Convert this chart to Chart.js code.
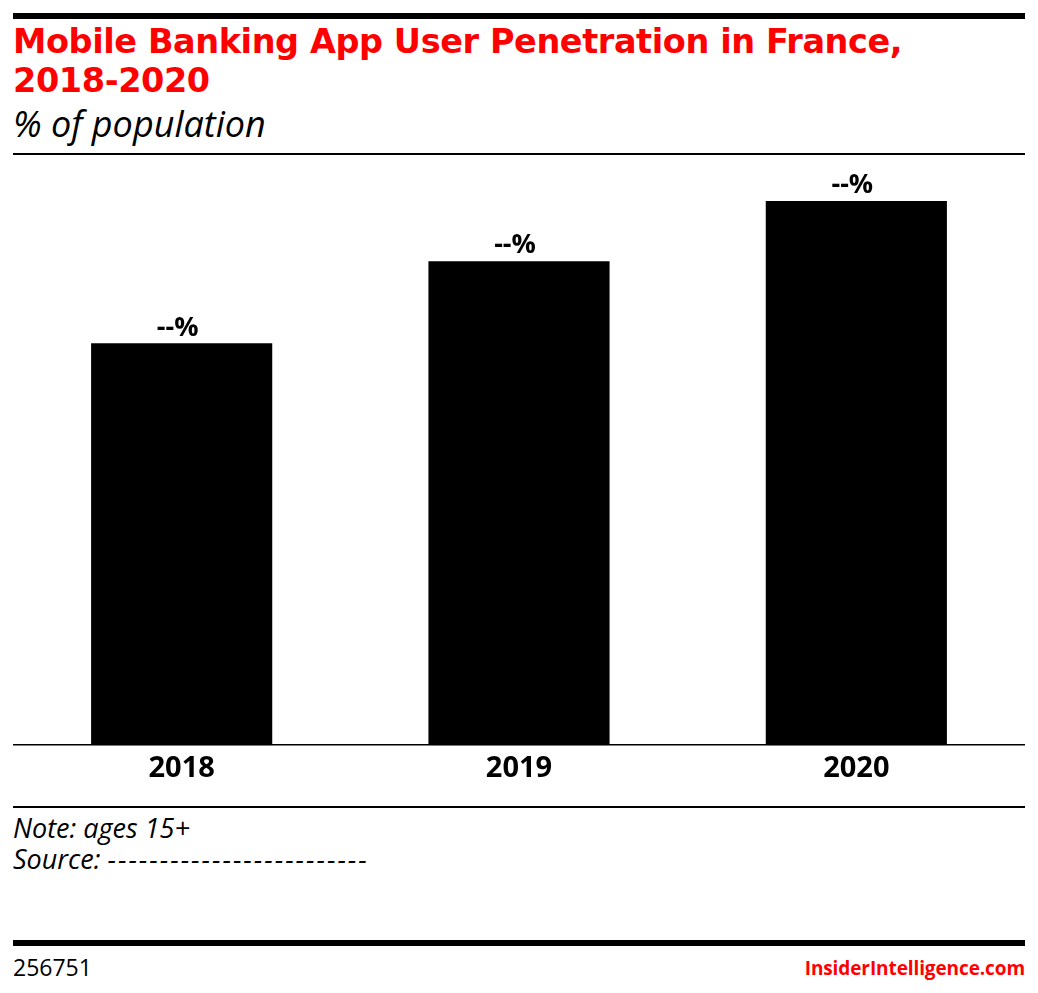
<!DOCTYPE html>
<html>
<head>
<meta charset="utf-8">
<script src="https://cdn.jsdelivr.net/npm/chart.js@4"></script>
<style>
  html, body { margin: 0; padding: 0; background: #fff; }
  body { width: 1038px; height: 993px; position: relative; overflow: hidden; font-family: "Open Sans", sans-serif; }
  .rule { position: absolute; left: 13px; width: 1012px; background: #000; }
  .title { position: absolute; left: 13px; top: 22px; color: #f00; font-family: "DejaVu Sans", sans-serif; font-weight: 700; font-size: 33.5px; line-height: 39px; letter-spacing: -0.4px; }
  .sub { position: absolute; left: 13px; top: 102px; font-style: italic; font-size: 36px; line-height: 44px; color: #000; }
  .note { position: absolute; left: 13px; top: 812px; font-style: italic; font-size: 27px; line-height: 31px; color: #000; }
  .dash { letter-spacing: 2px; }
  .id { position: absolute; left: 13px; top: 952px; font-size: 23px; line-height: 30px; color: #000; }
  .brand { position: absolute; right: 13px; top: 953px; font-size: 19px; line-height: 30px; font-weight: 700; color: #f00; letter-spacing: -0.1px; }
  #wrap { position: absolute; left: 13px; top: 155px; width: 1012px; height: 637px; }
</style>
</head>
<body>
<div class="rule" style="top:13px;height:6px"></div>
<div class="title">Mobile Banking App User Penetration in France,<br>2018-2020</div>
<div class="sub">% of population</div>
<div class="rule" style="top:153px;height:2px"></div>
<div id="wrap"><canvas id="chart"></canvas></div>
<div class="rule" style="top:806px;height:2px"></div>
<div class="note">Note: ages 15+<br>Source: <span class="dash">-------------------------</span></div>
<div class="rule" style="top:940px;height:6px"></div>
<div class="id">256751</div>
<div class="brand">InsiderIntelligence.com</div>
<script>
"use strict";

// values (labels in the source are masked as "--%")
const years = ["2018", "2019", "2020"];
const penetration = [40.1, 48.3, 54.3];
const valueLabels = ["--%", "--%", "--%"];
const yMax = 58;

const barLabels = {
  id: "barLabels",
  afterDatasetsDraw(chart) {
    const ctx = chart.ctx;
    const meta = chart.getDatasetMeta(0);
    ctx.save();
    ctx.fillStyle = "#000";
    ctx.font = "bold 27px 'Open Sans', sans-serif";
    ctx.textAlign = "center";
    ctx.textBaseline = "bottom";
    meta.data.forEach((bar, i) => {
      ctx.fillText(valueLabels[i], bar.x - 4, bar.y - 2);
    });
    ctx.restore();
  }
};

new Chart(document.getElementById("chart"), {
  type: "bar",
  data: {
    labels: years,
    datasets: [{
      data: penetration,
      backgroundColor: "#000",
      borderWidth: 0,
      categoryPercentage: 1,
      barPercentage: 0.537
    }]
  },
  options: {
    responsive: true,
    maintainAspectRatio: false,
    animation: false,
    layout: { padding: { top: 9, left: 0, right: 0, bottom: 0 } },
    plugins: { legend: { display: false }, tooltip: { enabled: false } },
    scales: {
      x: {
        grid: { display: false, drawTicks: false },
        border: { display: true, color: "#000", width: 1.5 },
        ticks: { color: "#000", font: { family: "'Open Sans', sans-serif", size: 29, weight: "bold" }, padding: 6 }
      },
      y: { display: false, min: 0, max: yMax }
    }
  },
  plugins: [barLabels]
});
</script>
</body>
</html>
